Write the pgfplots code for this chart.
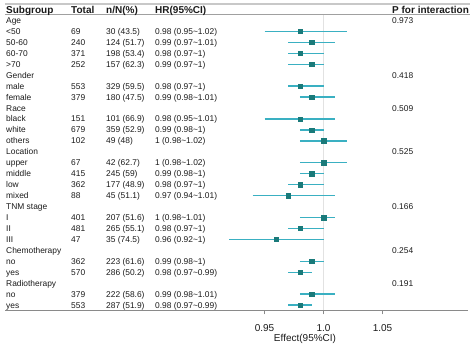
\documentclass[border=0pt]{standalone}
\usepackage{fontspec}
\setmainfont{Liberation Sans}
\usepackage{pgfplots}
\pgfplotsset{compat=1.18}
\usepackage{pgfplotstable}
\definecolor{ciline}{HTML}{3AB0C2}
\definecolor{sqcol}{HTML}{1A7A7A}
\definecolor{ruletop}{HTML}{C8C8C8}
\definecolor{rulemid}{HTML}{A0A0A0}
\definecolor{rulebot}{HTML}{8A8A8A}
\definecolor{refgray}{HTML}{E2E2E2}
\definecolor{txt}{HTML}{1A1A1A}

\pgfplotstableread{
r hr
1 0.98
2 0.99
3 0.98
4 0.99
6 0.98
7 0.99
9 0.98
10 0.99
11 1.00
13 1.00
14 0.99
15 0.98
16 0.97
18 1.00
19 0.98
20 0.96
22 0.99
23 0.98
25 0.99
26 0.98
}\hrdata

% confidence intervals: lower and upper end of each row, rows separated by nan
\pgfplotstableread{
x r
0.95 1
1.02 1
nan nan
0.97 2
1.01 2
nan nan
0.97 3
1.00 3
nan nan
0.97 4
1.00 4
nan nan
0.97 6
1.00 6
nan nan
0.98 7
1.01 7
nan nan
0.95 9
1.01 9
nan nan
0.98 10
1.00 10
nan nan
0.98 11
1.02 11
nan nan
0.98 13
1.02 13
nan nan
0.98 14
1.00 14
nan nan
0.97 15
1.00 15
nan nan
0.94 16
1.01 16
nan nan
0.98 18
1.01 18
nan nan
0.97 19
1.00 19
nan nan
0.92 20
1.00 20
nan nan
0.98 22
1.00 22
nan nan
0.97 23
0.99 23
nan nan
0.98 25
1.01 25
nan nan
0.97 26
0.99 26
}\cidata

\newcommand{\bodyfont}{\fontsize{8.4bp}{10bp}\selectfont}
\newcommand{\headfont}{\fontsize{10bp}{12bp}\selectfont\bfseries}

\begin{document}
\begin{tikzpicture}
\useasboundingbox (0,0) rectangle (474bp,-351bp);
\begin{axis}[
  at={(0,0)}, anchor=north west,
  scale only axis, width=474bp, height=310.5bp,
  xmin=0.725847, xmax=1.127542,
  ymin=-26.4932, ymax=1.8630,
  clip=false,
  axis y line=none,
  axis x line*=bottom,
  x axis line style={draw=none},
  xtick={0.95,1,1.05},
  xticklabels={0.95,1.0,1.05},
  tick align=outside,
  major tick length=3.8bp,
  tick style={draw=rulebot, line width=0.8bp},
  xticklabel style={font=\fontsize{10bp}{12bp}\selectfont, text=txt, inner sep=0pt, anchor=north, yshift=-10bp},
  xlabel={Effect(95\%CI)},
  xlabel style={at={(axis description cs:0.6435,-0.0918)}, anchor=center, font=\fontsize{10bp}{12bp}\selectfont, text=txt, inner sep=0pt},
]
\addplot[refgray, line width=0.7bp, forget plot] coordinates {(1,0.539) (1,-26.4932)};
\addplot[ciline, line width=1.4bp, mark=none, unbounded coords=jump, forget plot]
  table[x=x, y expr=-\thisrow{r}] {\cidata};
\addplot[only marks, mark=square*, mark size=2.2bp,
  mark options={fill=sqcol, draw=sqcol}]
  table[x=hr, y expr=-\thisrow{r}] {\hrdata};
\end{axis}

% rules
\draw[ruletop, line width=1.8bp] (5bp,-3.7bp) -- (470bp,-3.7bp);
\draw[rulemid, line width=0.9bp] (5bp,-14.4bp) -- (470bp,-14.4bp);
\draw[rulebot, line width=0.9bp] (5bp,-310.5bp) -- (468bp,-310.5bp);

% header
\begin{scope}[every node/.style={anchor=base west, inner sep=0pt, text=txt, font=\headfont}]
\node at (6bp,-13.0bp) {Subgroup};
\node at (71bp,-13.0bp) {Total};
\node at (106bp,-13.0bp) {n/N(\%)};
\node at (155bp,-13.0bp) {HR(95\%CI)};
\node at (392bp,-13.0bp) {P for interaction};
\end{scope}

\begin{scope}[every node/.style={anchor=base west, inner sep=0pt, text=txt, font=\bodyfont}]
\foreach \r/\a/\p in {0/Age/0.973, 5/Gender/0.418, 8/Race/0.509, 12/Location/0.525, 17/TNM stage/0.166, 21/Chemotherapy/0.254, 24/Radiotherapy/0.191}{
  \node at (6bp,{-23.4bp-10.95bp*\r}) {\a};
  \node at (392bp,{-23.4bp-10.95bp*\r}) {\p};
}
\foreach \r/\a/\b/\c/\d in {
 1/{<50}/69/{30 (43.5)}/{0.98 (0.95\textasciitilde1.02)},
 2/{50-60}/240/{124 (51.7)}/{0.99 (0.97\textasciitilde1.01)},
 3/{60-70}/371/{198 (53.4)}/{0.98 (0.97\textasciitilde1)},
 4/{>70}/252/{157 (62.3)}/{0.99 (0.97\textasciitilde1)},
 6/male/553/{329 (59.5)}/{0.98 (0.97\textasciitilde1)},
 7/female/379/{180 (47.5)}/{0.99 (0.98\textasciitilde1.01)},
 9/black/151/{101 (66.9)}/{0.98 (0.95\textasciitilde1.01)},
 10/white/679/{359 (52.9)}/{0.99 (0.98\textasciitilde1)},
 11/others/102/{49 (48)}/{1 (0.98\textasciitilde1.02)},
 13/upper/67/{42 (62.7)}/{1 (0.98\textasciitilde1.02)},
 14/middle/415/{245 (59)}/{0.99 (0.98\textasciitilde1)},
 15/low/362/{177 (48.9)}/{0.98 (0.97\textasciitilde1)},
 16/mixed/88/{45 (51.1)}/{0.97 (0.94\textasciitilde1.01)},
 18/I/401/{207 (51.6)}/{1 (0.98\textasciitilde1.01)},
 19/II/481/{265 (55.1)}/{0.98 (0.97\textasciitilde1)},
 20/III/47/{35 (74.5)}/{0.96 (0.92\textasciitilde1)},
 22/no/362/{223 (61.6)}/{0.99 (0.98\textasciitilde1)},
 23/yes/570/{286 (50.2)}/{0.98 (0.97\textasciitilde0.99)},
 25/no/379/{222 (58.6)}/{0.99 (0.98\textasciitilde1.01)},
 26/yes/553/{287 (51.9)}/{0.98 (0.97\textasciitilde0.99)}}{
  \node at (6bp,{-23.4bp-10.95bp*\r}) {\a};
  \node at (71bp,{-23.4bp-10.95bp*\r}) {\b};
  \node at (106bp,{-23.4bp-10.95bp*\r}) {\c};
  \node at (155bp,{-23.4bp-10.95bp*\r}) {\d};
}
\end{scope}
\end{tikzpicture}
\end{document}
